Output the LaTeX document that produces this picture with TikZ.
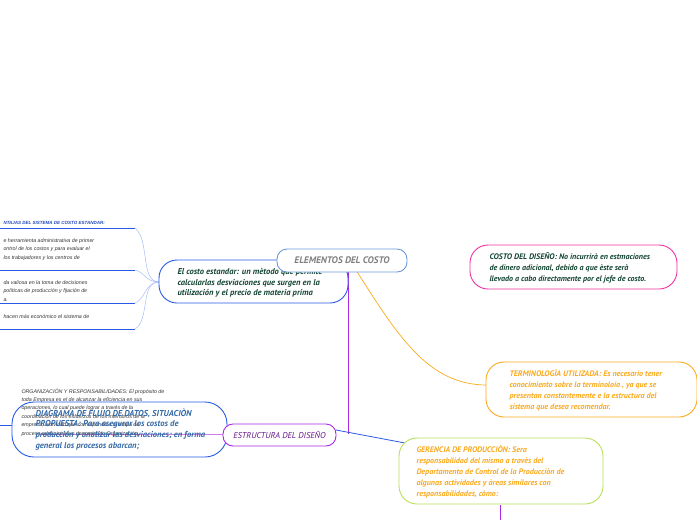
\documentclass[tikz,border=0pt]{standalone}
\usepackage{fontspec}
\setmainfont{PT Sans}
\newfontfamily\smallf{Liberation Sans}
\begin{document}
\begin{tikzpicture}[x=1pt,y=-1pt,
  bx/.style={draw,rounded corners=14pt,line width=0.9pt,inner sep=0pt},
  tx/.style={font=\itshape\fontsize{8.5}{10.5}\selectfont,align=left,anchor=north west},
  sm/.style={font=\smallf\itshape\fontsize{5.3}{8.4}\selectfont,align=left,anchor=north west,text=black!80}]
\useasboundingbox (0,0) rectangle (697,520);
\definecolor{bl}{RGB}{40,90,230}
\definecolor{pu}{RGB}{170,40,230}
\definecolor{og}{RGB}{250,170,30}
\definecolor{dg}{RGB}{20,70,50}
% lines
\draw[pu,line width=1pt] (348,272) -- (348,434);
\draw[pu,line width=1pt] (500,505) -- (500,520);
\draw[pu!60,line width=0.8pt] (40,434) -- (223,434);
\draw[og,line width=0.7pt] (356,270) .. controls (400,340) and (430,385) .. (487,385);
\draw[bl,line width=0.8pt] (336,430) -- (405,443);
\draw[bl,line width=0.8pt] (0,425) -- (12,425);
% left branches
\foreach \ya/\yb in {228/270,270/303,303/329}{
  \draw[bl,line width=0.8pt] (0,\ya) -- (135,\ya);
  \draw[bl,line width=0.8pt] (0,\yb) -- (135,\yb);
}
\draw[bl!40,line width=0.5pt] (135,228) .. controls (150,240) and (140,282) .. (159,282);
\draw[bl!40,line width=0.5pt] (135,270) .. controls (145,272) and (145,282) .. (159,282);
\draw[bl!40,line width=0.5pt] (135,303) .. controls (145,300) and (145,282) .. (159,282);
\draw[bl!40,line width=0.5pt] (135,329) .. controls (150,320) and (140,282) .. (159,282);
\node[sm,text=bl!80!black,font=\smallf\itshape\bfseries\fontsize{4.5}{6}\selectfont] (vh) at (0,218) {NTAJAS DEL SISTEMA DE COSTO ESTANDAR:};
\node[sm] (v1) at (0,235) {e herramienta administrativa de primer\\ontrol de los costos y para evaluar el\\ los trabajadores y los centros de};
\node[sm] (v2) at (0,277) {da valiosa en la toma de decisiones\\ políticas de producción y fijación de\\a.};
\node[sm] (v3) at (0,311) {hacen más económico el sistema de};
% nodes
\draw[bx,draw=bl,fill=white,rounded corners=18pt] (159,260) rectangle (348,303);
\node[tx,text=dg,font=\itshape\bfseries\fontsize{8.5}{10.5}\selectfont] (cs) at (174,265) {El costo estandar: un mètodo que permite\\calcularlas desviaciones que surgen en la\\utilización y el precio de materia prima};
\draw[bx,draw=cyan!50!blue!60,fill=white,rounded corners=10pt] (277,249) rectangle (407,272);
\node[font=\itshape\bfseries\fontsize{9.5}{11}\selectfont,text=gray] (main) at (342,260.5) {ELEMENTOS DEL COSTO};
\node[sm] (org) at (18,385) {ORGANIZACIÓN Y RESPONSABILIDADES: El propósito de\\toda Empresa es el de alcanzar la eficiencia en sus\\operaciones, lo cual puede lograr a través de la\\coordinación de los esfuerzos de los miembros de la\\empresa, actividad que corresponde a la etapa de\\proceso administrativo denominado Organización.};
\draw[bx,draw=bl,rounded corners=22pt] (12,402) rectangle (227,457);
\node[tx,text=cyan!50!blue!80!black,font=\itshape\bfseries\fontsize{8.6}{10.8}\selectfont] (dfd) at (32,405) {DIAGRAMA DE FLUJO DE DATOS, SITUACIÒN\\PROPUESTA: Para asegurar los costos de\\producción y analizar las desviaciones; en forma\\general los procesos abarcan;};
\draw[bx,draw=pu,fill=white,rounded corners=10pt] (223,424) rectangle (336,446);
\node[font=\itshape\fontsize{8.5}{10}\selectfont,text=pu!60!black] (est) at (279.5,435) {ESTRUCTURA DEL DISEÑO};
\draw[bx,draw=magenta!80,fill=white,rounded corners=18pt] (470,245) rectangle (677,289);
\node[tx,text=dg,font=\itshape\bfseries\fontsize{8}{11}\selectfont] (cd) at (486,249) {COSTO DEL DISEÑO: No incurrirà en estmaciones\\de dinero adicional, debido a que èste serà\\llevado a cabo directamente por el jefe de costo.};
\draw[bx,draw=og,fill=white,rounded corners=18pt] (486,362) rectangle (697,417);
\node[tx,text=og,font=\itshape\bfseries\fontsize{8}{11}\selectfont] (ter) at (506,366) {TERMINOLOGÌA UTILIZADA: Es necesario tener\\conocimiento sobre la terminoloia , ya que se\\presentan constantemente e la estructura del\\sistema que desea recomendar.};
\draw[bx,draw=yellow!60!green!70,fill=white,rounded corners=18pt] (399,438) rectangle (603,504);
\node[tx,text=og,font=\itshape\bfseries\fontsize{8}{11}\selectfont] (ger) at (413,442) {GERENCIA DE PRODUCCIÒN: Sera\\responsabilidad del mismo a travès del\\Departamento de Control de la Producciòn de\\algunas actividades y àreas similares con\\responsabilidades, còmo:};
\end{tikzpicture}
\end{document}
